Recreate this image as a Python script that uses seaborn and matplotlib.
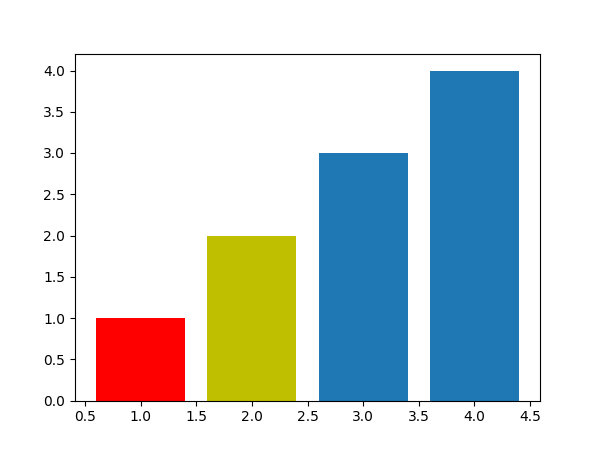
import matplotlib
matplotlib.use("Agg")
import matplotlib.pyplot as plt
import seaborn as sns
import pandas as pd

x_vals = [1, 2, 3, 4]
heights = [1, 2, 3, 4]
bar_colors = ["r", "y", "C0", "C0"]

df = pd.DataFrame({"x": x_vals, "h": heights})

fig, ax = plt.subplots(figsize=(6, 4.5), dpi=100)
sns.barplot(data=df, x="x", y="h", hue="x", palette=dict(zip(x_vals, bar_colors)),
            native_scale=True, saturation=1, width=0.8, linewidth=0,
            legend=False, errorbar=None, ax=ax)
ax.set_xlabel("")
ax.set_ylabel("")
ax.set_xticks([0.5, 1.0, 1.5, 2.0, 2.5, 3.0, 3.5, 4.0, 4.5])
ax.set_xlim(0.41, 4.59)
ax.set_ylim(0, 4.2)
fig.savefig("out.png", dpi=100)
